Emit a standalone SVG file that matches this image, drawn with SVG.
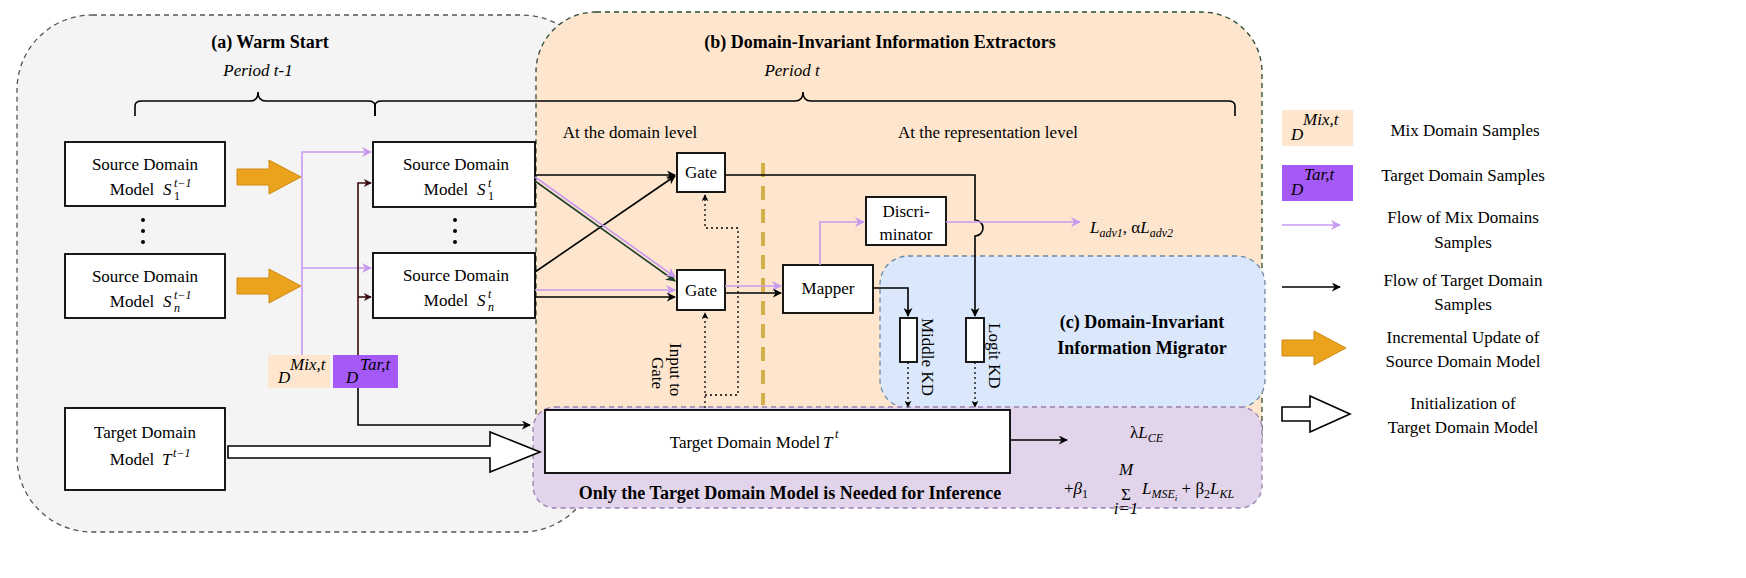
<svg xmlns="http://www.w3.org/2000/svg" width="1746" height="578" viewBox="0 0 1746 578">
<style>
text{font-family:"Liberation Serif","Times New Roman",serif;font-size:17px;fill:#000}
.b{font-weight:bold;font-size:18px}
.i{font-style:italic}
.s{font-size:12px}
.box{fill:#fff;stroke:#000;stroke-width:1.8}
.k{stroke:#000;stroke-width:1.6;fill:none}
.p{stroke:#c89af0;stroke-width:1.6;fill:none}
.r{stroke:#3a0a0a;stroke-width:1.6;fill:none}
.g{stroke:#1e3d2a;stroke-width:1.6;fill:none}
.d{stroke:#000;stroke-width:1.3;fill:none;stroke-dasharray:2 3}
.m{text-anchor:middle}
</style>
<defs>
<marker id="ak" viewBox="0 0 10 10" refX="9" refY="5" markerWidth="9" markerHeight="9" orient="auto" markerUnits="userSpaceOnUse"><path d="M0,0L10,5L0,10L3,5z" fill="#000"/></marker>
<marker id="ap" viewBox="0 0 10 10" refX="9" refY="5" markerWidth="10" markerHeight="10" orient="auto" markerUnits="userSpaceOnUse"><path d="M0,0L10,5L0,10L3,5z" fill="#c89af0"/></marker>
<marker id="ar" viewBox="0 0 10 10" refX="9" refY="5" markerWidth="8" markerHeight="8" orient="auto" markerUnits="userSpaceOnUse"><path d="M0,0L10,5L0,10L3,5z" fill="#3a0a0a"/></marker>
<marker id="ag" viewBox="0 0 10 10" refX="9" refY="5" markerWidth="10" markerHeight="10" orient="auto" markerUnits="userSpaceOnUse"><path d="M0,0L10,5L0,10L3,5z" fill="#1e3d2a"/></marker>
<marker id="ad" viewBox="0 0 10 10" refX="9" refY="5" markerWidth="7" markerHeight="7" orient="auto" markerUnits="userSpaceOnUse"><path d="M0,0L10,5L0,10L3,5z" fill="#000"/></marker>
<path id="orr" d="M0,-8H32V-17L64,0L32,17V8H0z" fill="#eba21c" stroke="#d08a10" stroke-width="1"/>
</defs>
<rect width="1746" height="578" fill="#fff"/>
<g id="regions">
<rect x="17" y="15" width="580" height="517" rx="75" fill="#f4f4f4" stroke="#555" stroke-width="1.3" stroke-dasharray="5 4"/>
<rect x="536" y="12" width="726" height="480" rx="60" fill="#fde6cd" stroke="#2d4a35" stroke-width="1.3" stroke-dasharray="5 4"/>
<rect x="880" y="256" width="385" height="152" rx="28" fill="#dbe8fb" stroke="#6a88a8" stroke-width="1.3" stroke-dasharray="5 4"/>
<rect x="533" y="407" width="729" height="101" rx="22" fill="#e2d5eb" stroke="#9a80b0" stroke-width="1.3" stroke-dasharray="5 4"/>
</g>
<g id="labels">
<text x="270" y="48" class="b m">(a) Warm Start</text>
<text x="880" y="48" class="b m">(b) Domain-Invariant Information Extractors</text>
<text x="258" y="76" class="i m" font-size="18">Period t-1</text>
<text x="792" y="76" class="i m" font-size="18">Period t</text>
<path d="M135,116V106Q135,101 142,101H250Q258,101 258,92Q258,101 266,101H368Q375,101 375,106V116" class="k" stroke-width="1.4"/>
<path d="M375,116V106Q375,101 382,101H795Q803,101 803,92Q803,101 811,101H1228Q1235,101 1235,106V116" class="k" stroke-width="1.4"/>
<text x="630" y="138" class="m" font-size="18">At the domain level</text>
<text x="988" y="138" class="m" font-size="18">At the representation level</text>
<line x1="763" y1="163" x2="763" y2="405" stroke="#d4b04a" stroke-width="4" stroke-dasharray="14 9"/>
<text x="1142" y="328" class="b m">(c) Domain-Invariant</text>
<text x="1142" y="354" class="b m">Information Migrator</text>
<text x="790" y="499" class="b m" font-size="17">Only the Target Domain Model is Needed for Inference</text>
<text x="1090" y="233" class="i" font-size="19">L<tspan font-size="12" dy="4">adv1</tspan><tspan dy="-4" font-style="normal">, α</tspan>L<tspan font-size="12" dy="4">adv2</tspan></text>
<text x="1130" y="438" class="i" font-size="19"><tspan font-style="normal">λ</tspan>L<tspan font-size="12" dy="4">CE</tspan></text>
<text x="1064" y="494" font-size="19">+<tspan class="i">β</tspan><tspan font-size="12" dy="4">1</tspan></text>
<text x="1126" y="500" class="m" font-size="30">Σ</text>
<text x="1126" y="475" class="i m" font-size="11">M</text>
<text x="1126" y="514" class="i m" font-size="11">i=1</text>
<text x="1142" y="494" class="i" font-size="19">L<tspan font-size="12" dy="4">MSE</tspan><tspan font-size="9" dy="3">i</tspan><tspan font-style="normal" dy="-7"> + β</tspan><tspan font-style="normal" font-size="12" dy="4">2</tspan><tspan dy="-4">L</tspan><tspan font-size="12" dy="4">KL</tspan></text>
</g>
<g id="src_prev1"><rect x="65" y="142" width="160" height="64" class="box"/><text x="145" y="170" class="m">Source Domain</text><text x="132" y="195" class="m">Model</text><text x="163" y="195" class="i">S</text><text x="174" y="187" class="i s">t−1</text><text x="174" y="200" class="s">1</text></g>
<g id="src_prevn"><rect x="65" y="254" width="160" height="64" class="box"/><text x="145" y="282" class="m">Source Domain</text><text x="132" y="307" class="m">Model</text><text x="163" y="307" class="i">S</text><text x="174" y="299" class="i s">t−1</text><text x="174" y="312" class="i s">n</text></g>
<g id="dots1" fill="#000"><circle cx="143" cy="220" r="2"/><circle cx="143" cy="231" r="2"/><circle cx="143" cy="242" r="2"/></g>
<g id="src1"><rect x="373" y="142" width="162" height="65" class="box"/><text x="456" y="170" class="m">Source Domain</text><text x="446" y="195" class="m">Model</text><text x="477" y="195" class="i">S</text><text x="488" y="187" class="i s">t</text><text x="488" y="200" class="s">1</text></g>
<g id="srcn"><rect x="373" y="253" width="162" height="65" class="box"/><text x="456" y="281" class="m">Source Domain</text><text x="446" y="306" class="m">Model</text><text x="477" y="306" class="i">S</text><text x="488" y="298" class="i s">t</text><text x="488" y="311" class="i s">n</text></g>
<g id="dots2" fill="#000"><circle cx="455" cy="220" r="2"/><circle cx="455" cy="231" r="2"/><circle cx="455" cy="242" r="2"/></g>
<g id="tgt_prev"><rect x="65" y="408" width="160" height="82" class="box"/><text x="145" y="438" class="m">Target Domain</text><text x="132" y="465" class="m">Model</text><text x="162" y="465" class="i">T</text><text x="173" y="457" class="i s">t−1</text></g>
<g id="tgt"><rect x="545" y="410" width="465" height="63" class="box"/><text x="745" y="448" class="m">Target Domain Model</text><text x="823" y="448" class="i" font-size="18">T</text><text x="835" y="438" class="i s">t</text></g>
<g id="gate1"><rect x="677" y="153" width="48" height="39" class="box"/><text x="701" y="178" class="m">Gate</text></g>
<g id="gate2"><rect x="677" y="270" width="48" height="40" class="box"/><text x="701" y="296" class="m">Gate</text></g>
<g id="disc"><rect x="866" y="197" width="80" height="48" class="box"/><text x="906" y="217" class="m">Discri-</text><text x="906" y="240" class="m">minator</text></g>
<g id="mapper"><rect x="783" y="265" width="90" height="48" class="box"/><text x="828" y="294" class="m">Mapper</text></g>
<g id="midkd"><rect x="900" y="318" width="17" height="44" class="box"/><text transform="translate(922,318) rotate(90)">Middle  KD</text></g>
<g id="logkd"><rect x="966" y="318" width="18" height="44" class="box"/><text transform="translate(989,323) rotate(90)">Logit    KD</text></g>
<g id="dmix"><rect x="268" y="355" width="62" height="33" fill="#fde6cd"/><text x="278" y="383" class="i">D</text><text x="290" y="370" class="i" font-size="13">Mix,t</text></g>
<g id="dtar"><rect x="333" y="355" width="65" height="33" fill="#a55af8"/><text x="346" y="383" class="i">D</text><text x="360" y="370" class="i" font-size="13">Tar,t</text></g>
<text transform="translate(670,343) rotate(90)">Input to</text>
<text transform="translate(652,357) rotate(90)">Gate</text>
<g id="connectors">
<use href="#orr" x="237" y="177"/>
<use href="#orr" x="237" y="286"/>
<path d="M302,355V152H371" class="p" marker-end="url(#ap)"/>
<path d="M302,268H371" class="p" marker-end="url(#ap)"/>
<path d="M358,355V183H371" class="r" marker-end="url(#ar)"/>
<path d="M358,297H371" class="r" marker-end="url(#ar)"/>
<path d="M358,388V425H530" class="k" marker-end="url(#ak)"/>
<path d="M228,446H490V432L540,452L490,472V458H228z" fill="#fff" stroke="#000" stroke-width="1.6"/>
<path d="M535,175H675" class="k" marker-end="url(#ak)"/>
<path d="M535,272L675,176" class="k" marker-end="url(#ak)"/>
<path d="M535,181L675,281" class="g" marker-end="url(#ag)"/>
<path d="M535,177L675,277" class="p" marker-end="url(#ap)"/>
<path d="M535,290H675" class="p" marker-end="url(#ap)"/>
<path d="M535,297H675" class="k" marker-end="url(#ak)"/>
<path d="M705,408V313" class="d" marker-end="url(#ad)"/>
<path d="M705,395H738V228H705V195" class="d" marker-end="url(#ad)"/>
<path d="M725,175H975V220A8,8 0 0 1 975,236V316" class="k" marker-end="url(#ak)"/>
<path d="M725,286H781" class="p" marker-end="url(#ap)"/>
<path d="M725,293H781" class="k" marker-end="url(#ak)"/>
<path d="M820,265V222H864" class="p" marker-end="url(#ap)"/>
<path d="M946,222H1080" class="p" marker-end="url(#ap)"/>
<path d="M873,288H908V316" class="k" marker-end="url(#ak)"/>
<path d="M908,362V407" class="d" marker-end="url(#ad)"/>
<path d="M975,362V407" class="d" marker-end="url(#ad)"/>
<path d="M1010,440H1067" class="k" marker-end="url(#ak)"/>
</g>
<g id="legend">
<rect x="1282" y="110" width="71" height="36" fill="#fde6cd"/><text x="1291" y="140" class="i">D</text><text x="1303" y="125" class="i" font-size="13">Mix,t</text>
<text x="1465" y="136" class="m">Mix Domain Samples</text>
<rect x="1282" y="165" width="71" height="36" fill="#a55af8"/><text x="1291" y="195" class="i">D</text><text x="1304" y="180" class="i" font-size="13">Tar,t</text>
<text x="1463" y="181" class="m">Target Domain Samples</text>
<path d="M1282,225H1340" class="p" marker-end="url(#ap)"/>
<text x="1463" y="223" class="m">Flow of Mix Domains</text><text x="1463" y="248" class="m">Samples</text>
<path d="M1282,287H1340" class="k" marker-end="url(#ak)"/>
<text x="1463" y="286" class="m">Flow of Target Domain</text><text x="1463" y="310" class="m">Samples</text>
<use href="#orr" x="1282" y="348"/>
<text x="1463" y="343" class="m">Incremental Update of</text><text x="1463" y="367" class="m">Source Domain Model</text>
<path d="M1282,407H1310V396L1350,414L1310,432V421H1282z" fill="#fff" stroke="#000" stroke-width="1.6"/>
<text x="1463" y="409" class="m">Initialization of</text><text x="1463" y="433" class="m">Target Domain Model</text>
</g>
</svg>
